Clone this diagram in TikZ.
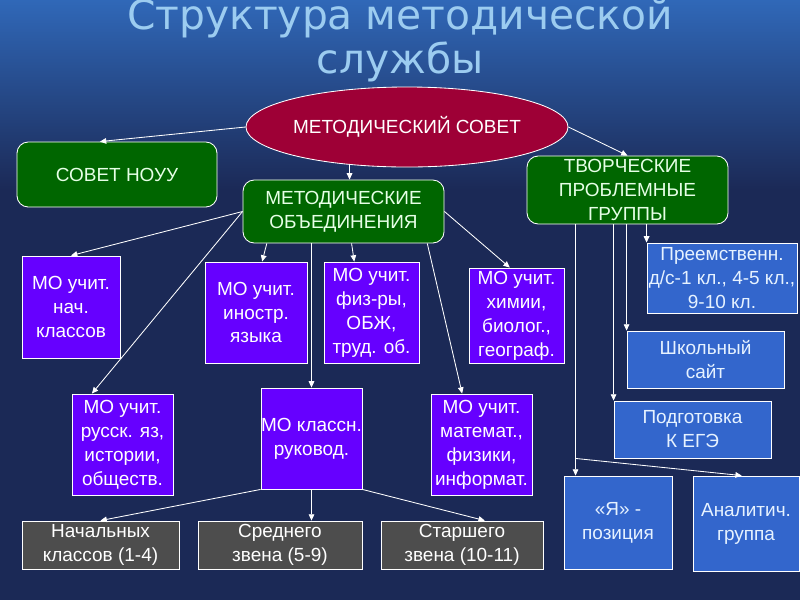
\documentclass[tikz,border=0pt]{standalone}
\usepackage{fontspec}
\setmainfont{Liberation Sans}
\newfontfamily\titlefont{DejaVu Sans}
\usepackage{xcolor}
\usetikzlibrary{arrows.meta}
\usetikzlibrary{calc}
\usetikzlibrary{shapes.geometric}
\usetikzlibrary{positioning}

\definecolor{crim}{HTML}{9E0036}
\definecolor{grn}{HTML}{006600}
\definecolor{viol}{HTML}{6600FF}
\definecolor{bluebx}{HTML}{3366CC}
\definecolor{greybx}{HTML}{4D4D4D}
\definecolor{bgnavy}{HTML}{1B2956}
\definecolor{titleblue}{HTML}{3068B8}
\definecolor{titletxt}{HTML}{9CCCF0}
\definecolor{grntext}{HTML}{E6FFE6}
\definecolor{bluetext}{HTML}{E6F2FF}

\begin{document}
\begin{tikzpicture}[x=0.025cm,y=-0.025cm,semithick,font=\fontsize{13.5}{17}\selectfont]
		\tikzstyle{box}=[draw=white, line width=0.6pt, align=center, inner sep=0pt]
		\tikzstyle{greenbox}=[box, fill=grn, text=grntext, rounded corners=8pt]
		\tikzstyle{violbox}=[box, fill=viol, text=white]
		\tikzstyle{greybox}=[box, fill=greybx, text=white, minimum height=1.2cm]
		\tikzstyle{bluebox}=[box, fill=bluebx, text=bluetext]
		\tikzstyle{arr}=[draw=white, line width=0.6pt, -{Triangle[length=4.5pt,width=4pt]}]

		% background
		\useasboundingbox (0,0) rectangle (800,600);
		\fill[bgnavy] (0,0) rectangle (800,600);
		\shade[top color=titleblue, bottom color=bgnavy] (0,0) rectangle (800,190);

		\node[font=\titlefont\fontsize{29}{31}\selectfont, text=titletxt, align=center, anchor=north, inner sep=0pt] (T) at (400,-2) {Структура методической\\службы};

		% top level
		\node[ellipse, draw=white, line width=0.6pt, fill=crim, text=white, minimum width=7.825cm, minimum height=2cm, inner sep=0pt] (MS) at (407,127) {МЕТОДИЧЕСКИЙ СОВЕТ};
		\node[greenbox, minimum width=5cm, minimum height=1.625cm] (NOU) at (117,174.5) {СОВЕТ НОУУ};
		\node[greenbox, minimum width=5.025cm, minimum height=1.575cm] (MO) at (343.5,211.5) {МЕТОДИЧЕСКИЕ\\ОБЪЕДИНЕНИЯ};
		\node[greenbox, minimum width=5.025cm, minimum height=1.7cm] (TPG) at (627.5,190) {ТВОРЧЕСКИЕ\\ПРОБЛЕМНЫЕ\\ГРУППЫ};

		% MO teachers
		\node[violbox, minimum width=2.45cm, minimum height=2.55cm] (P1) at (71,307) {МО учит.\\нач.\\классов};
		\node[violbox, minimum width=2.55cm, minimum height=2.525cm] (P2) at (256,312.5) {МО учит.\\иностр.\\языка};
		\node[violbox, minimum width=2.375cm, minimum height=2.525cm] (P3) at (371.5,312.5) {МО учит.\\физ-ры,\\ОБЖ,\\труд. об.};
		\node[violbox, minimum width=2.375cm, minimum height=2.375cm] (P4) at (516.5,315.5) {МО учит.\\химии,\\биолог.,\\географ.};
		\node[violbox, minimum width=2.525cm, minimum height=2.525cm] (P5) at (122.5,444.5) {МО учит.\\русск. яз,\\истории,\\обществ.};
		\node[violbox, minimum width=2.525cm, minimum height=2.525cm] (P6) at (311.5,438.5) {МО классн.\\руковод.};
		\node[violbox, minimum width=2.525cm, minimum height=2.525cm] (P7) at (481.5,444.5) {МО учит.\\математ.,\\физики,\\информат.};

		% class teachers
		\node[greybox, minimum width=3.925cm] (G1) at (100.5,545) {Начальных\\классов (1-4)};
		\node[greybox, minimum width=4.1cm] (G2) at (280,545) {Среднего\\звена (5-9)};
		\node[greybox, minimum width=4.05cm] (G3) at (462,545) {Старшего\\звена (10-11)};

		% groups
		\node[bluebox, minimum width=3.75cm, minimum height=1.75cm] (B1) at (722,278) {Преемственн.\\д/с-1 кл., 4-5 кл.,\\9-10 кл.};
		\node[bluebox, minimum width=3.925cm, minimum height=1.425cm] (B2) at (705.5,359.5) {Школьный\\сайт};
		\node[bluebox, minimum width=3.925cm, minimum height=1.425cm] (B3) at (692.5,429.5) {Подготовка\\К ЕГЭ};
		\node[bluebox, minimum width=2.7cm, minimum height=2.325cm] (B4) at (618,522.5) {«Я» -\\позиция};
		\node[bluebox, minimum width=2.65cm, minimum height=2.375cm] (B5) at (746,523.5) {Аналитич.\\группа};

		% connectors
		\draw[arr] (MS.west) -- ($(NOU.north west)!.415!(NOU.north east)$);
		\coordinate (t1) at ($(MO.north west)!.53!(MO.north east)$);
		\draw[arr, shorten <=-2pt] (t1 |- MS.south) -- (t1);
		\draw[arr] (MS.east) -- (TPG.north);

		\draw[arr] (MO.west) -- (P1.north);
		\draw[arr] (MO.west) -- ($(P5.north west)!.2!(P5.north east)$);
		\draw[arr] ($(MO.south west)!.12!(MO.south east)$) -- ($(P2.north west)!.56!(P2.north east)$);
		\draw[arr] (P6.north |- MO.south) -- (P6.north);
		\draw[arr] ($(MO.south west)!.54!(MO.south east)$) -- ($(P3.north west)!.32!(P3.north east)$);
		\draw[arr] (MO.east) -- ($(P4.north west)!.43!(P4.north east)$);
		\draw[arr] ($(MO.south west)!.915!(MO.south east)$) -- ($(P7.north west)!.31!(P7.north east)$);

		\draw[arr] (P6.south west) -- (G1.north);
		\draw[arr] (P6.south) -- (P6.south |- G2.north);
		\draw[arr] (P6.south east) -- ($(G3.north west)!.64!(G3.north east)$);

		\foreach \b in {B1,B2,B3}{
			\draw[arr] (\b.north west |- TPG.south) -- (\b.north west);
		}
		\coordinate (t2) at ($(B4.north west)!.11!(B4.north east)$);
		\draw[arr] (t2 |- TPG.south) -- (t2);
		\coordinate (t3) at (t2 |- B3.south);
		\draw[arr] (t3) -- ($(B5.north west)!.46!(B5.north east)$);
\end{tikzpicture}
\end{document}
